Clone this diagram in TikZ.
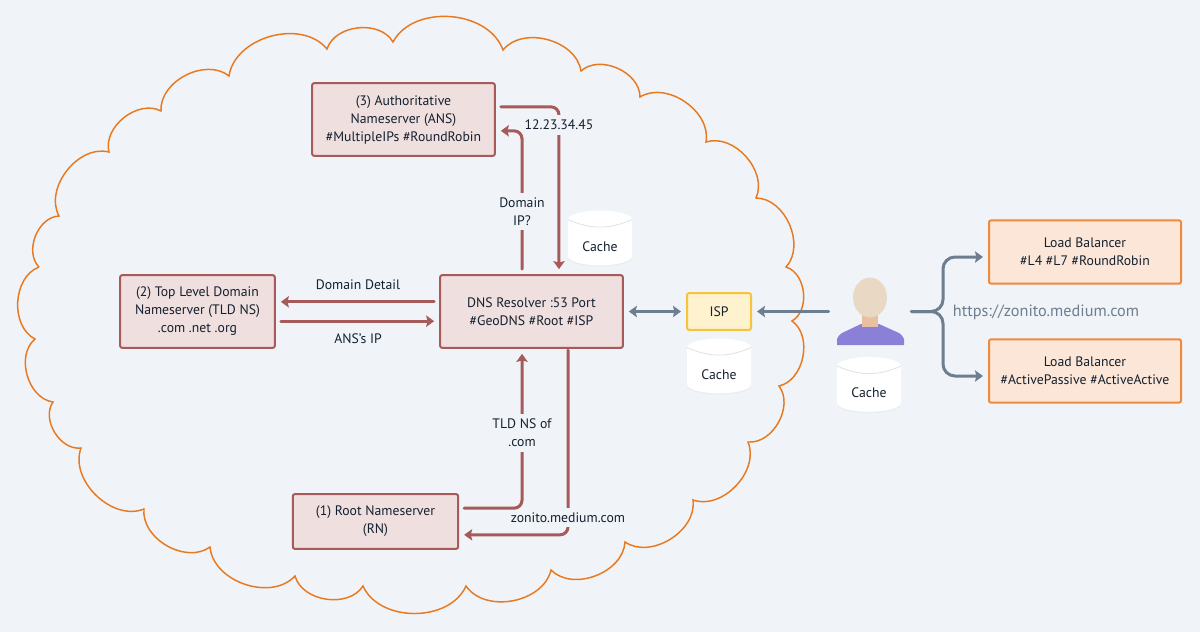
\documentclass[tikz,border=0pt]{standalone}
\usepackage{fontspec}
\setmainfont{PT Sans}
\usepackage{tikz}
\usetikzlibrary{arrows.meta,shapes.geometric,shadows}

\definecolor{pagebg}{HTML}{F0F4F8}
\definecolor{inktext}{HTML}{14202E}
\definecolor{dnsred}{HTML}{A65A5A}
\definecolor{dnsfill}{HTML}{EFDFDF}
\definecolor{cloudorange}{HTML}{E8791F}
\definecolor{netgrey}{HTML}{6C7E8F}
\definecolor{ispfill}{HTML}{FFF2CF}
\definecolor{ispline}{HTML}{F8C33C}
\definecolor{lbfill}{HTML}{FBE6D8}
\definecolor{lbline}{HTML}{EE8A3C}
\definecolor{userbody}{HTML}{8A80D8}
\definecolor{userneck}{HTML}{E8BF9F}
\definecolor{userhead}{HTML}{E9D8C4}

\begin{document}
\begin{tikzpicture}[x=0.75pt,y=-0.75pt,
  every node/.style={font=\fontsize{10.3}{13.5}\selectfont,text=inktext,align=center},
  dnsbox/.style={draw=dnsred,fill=dnsfill,line width=1.5pt,rounded corners=1.5pt,inner sep=0pt},
  ispbox/.style={draw=ispline,fill=ispfill,line width=1.5pt,rounded corners=1.5pt,inner sep=0pt},
  lbbox/.style={draw=lbline,fill=lbfill,line width=1.5pt,rounded corners=1.5pt,inner sep=0pt},
  cachedb/.style={shape=cylinder,shape border rotate=90,aspect=0.5,fill=white,inner sep=0pt,
    minimum width=48pt,minimum height=41pt,
    drop shadow={opacity=0.06,shadow xshift=0pt,shadow yshift=-1pt}},
  gaplabel/.style={fill=pagebg,inner sep=0pt},
  flowred/.style={draw=dnsred,line width=2.25pt,line cap=round,
    -{Stealth[length=6pt,width=8.5pt,inset=1pt]}},
  flowgrey/.style={draw=netgrey,line width=2.25pt,line cap=round,
    -{Stealth[length=6pt,width=8.5pt,inset=1pt]}},
  ]
  \fill[pagebg] (0,0) rectangle (1200,632);
  \useasboundingbox (0,0) rectangle (1200,632);

  \draw[draw=cloudorange,line width=1.1pt] (39,267)
    \foreach \cx/\cy in {59/216,109/152,161/111,229/76,327/49,393/42,503/50,581/71,640/97,
      706/142,756/198,786/267,792/321,779/386,748/442,693/500,625/542,551/570,466/586,
      363/586,295/576,210/547,144/509,81/448,53/402,35/339,39/267}
    { to[bend left=66] (\cx,\cy) };

  \node[dnsbox,minimum width=137pt,minimum height=54.5pt] (ans) at (403.5,119.5)
    {(3) Authoritative\\Nameserver (ANS)\\\#MultipleIPs \#RoundRobin};
  \node[dnsbox,minimum width=116pt,minimum height=54.5pt] (tld) at (197.5,311.5)
    {(2) Top Level Domain\\Nameserver (TLD NS)\\.com .net .org};
  \node[dnsbox,minimum width=137pt,minimum height=54.5pt] (dns) at (531.5,311.5)
    {DNS Resolver :53 Port\\\#GeoDNS \#Root \#ISP};
  \node[dnsbox,minimum width=124pt,minimum height=41pt] (root) at (375.5,521.5)
    {(1) Root Nameserver\\(RN)};
  \node[ispbox,minimum width=48pt,minimum height=27.5pt] (isp) at (719,311.5) {ISP};
  \node[lbbox,minimum width=144pt,minimum height=47.5pt] (lbtop) at (1085,252)
    {Load Balancer\\\#L4 \#L7 \#RoundRobin};
  \node[lbbox,minimum width=144pt,minimum height=47.5pt] (lbbot) at (1085,371)
    {Load Balancer\\\#ActivePassive \#ActiveActive};

  \node[cachedb] (cachedns) at (600,242.5) {\raisebox{-6.5pt}[0pt][0pt]{Cache}};
  \node[cachedb] (cacheisp) at (719,370.5) {\raisebox{-6.5pt}[0pt][0pt]{Cache}};
  \node[cachedb] (cacheuser) at (869,389) {\raisebox{-6.5pt}[0pt][0pt]{Cache}};
  \foreach \nm in {cachedns,cacheisp,cacheuser}
    \draw[draw=pagebg!85!netgrey,line width=0.6pt] (\nm.before top) to[bend right=24] (\nm.after top);

  % user figure
  \fill[userbody] (837,345) -- (837,339) to[bend left=18] (842,333)
    -- (861,324) -- (870,327) -- (879,324) -- (899,333) to[bend left=18] (904,339) -- (904,345) -- cycle;
  \fill[userneck] (862,312) rectangle (878,326.5);
  \fill[userhead] (870,297.5) ellipse [x radius=17,y radius=20];
  \node[minimum width=61.5pt,inner sep=0pt] (user) at (870,311.5) {};

  \draw[flowred,rounded corners=6pt] ([xshift=3.75pt,yshift=9.5pt]ans.east) -| ([xshift=20.6pt,yshift=3.75pt]dns.north);
  \node[gaplabel,minimum height=15pt] (lblip) at (559,125) {12.23.34.45};
  \draw[flowred,rounded corners=6pt] ([xshift=-7.1pt,yshift=3.75pt]dns.north) |- ([xshift=3.75pt,yshift=-8.5pt]ans.east);
  \node[gaplabel,minimum height=27.5pt] (lblask) at (522,211.5) {Domain\\IP?};

  \draw[flowred] ([xshift=-3.75pt,yshift=7.25pt]dns.west) -- ([xshift=3.75pt,yshift=7.25pt]tld.east);
  \draw[flowred] ([xshift=3.75pt,yshift=-7.25pt]tld.east) -- ([xshift=-3.75pt,yshift=-7.25pt]dns.west);
  \node[inner sep=0pt] (lbldetail) at (358,285) {Domain Detail};
  \node[inner sep=0pt] (lblansip) at (358,339) {ANS's IP};

  \draw[flowred,rounded corners=6pt] ([xshift=27.4pt,yshift=-1pt]dns.south) |- ([xshift=3.75pt,yshift=-10pt]root.east);
  \node[gaplabel,minimum height=14.25pt] (lblquery) at (568,517.5) {zonito.medium.com};
  \draw[flowred,rounded corners=6pt] ([xshift=3.75pt,yshift=10pt]root.east) -| ([xshift=-7.1pt,yshift=-3.75pt]dns.south);
  \node[gaplabel,minimum height=28.5pt] (lbltld) at (522,433) {TLD NS of\\.com};

  \draw[flowgrey,{Stealth[length=6pt,width=8.5pt,inset=1pt]}-{Stealth[length=6pt,width=8.5pt,inset=1pt]},shorten <=3.75pt,shorten >=3.75pt] (dns.east) -- (isp.west);
  \draw[flowgrey,shorten >=3.75pt] (user.west) -- (isp.east);
  \coordinate (forkpoint) at (943,311.5);
  \draw[flowgrey,rounded corners=9pt,shorten >=3.75pt] (user.east) -- (forkpoint) |- ([yshift=-3.75pt]lbtop.west);
  \draw[flowgrey,rounded corners=9pt,shorten >=3.75pt] (user.east) -- (forkpoint) |- ([yshift=-3.75pt]lbbot.west);
  \node[inner sep=0pt,text=netgrey,font=\fontsize{12.2}{13.5}\selectfont] (lblurl) at (1046,312) {https://zonito.medium.com};
\end{tikzpicture}
\end{document}
